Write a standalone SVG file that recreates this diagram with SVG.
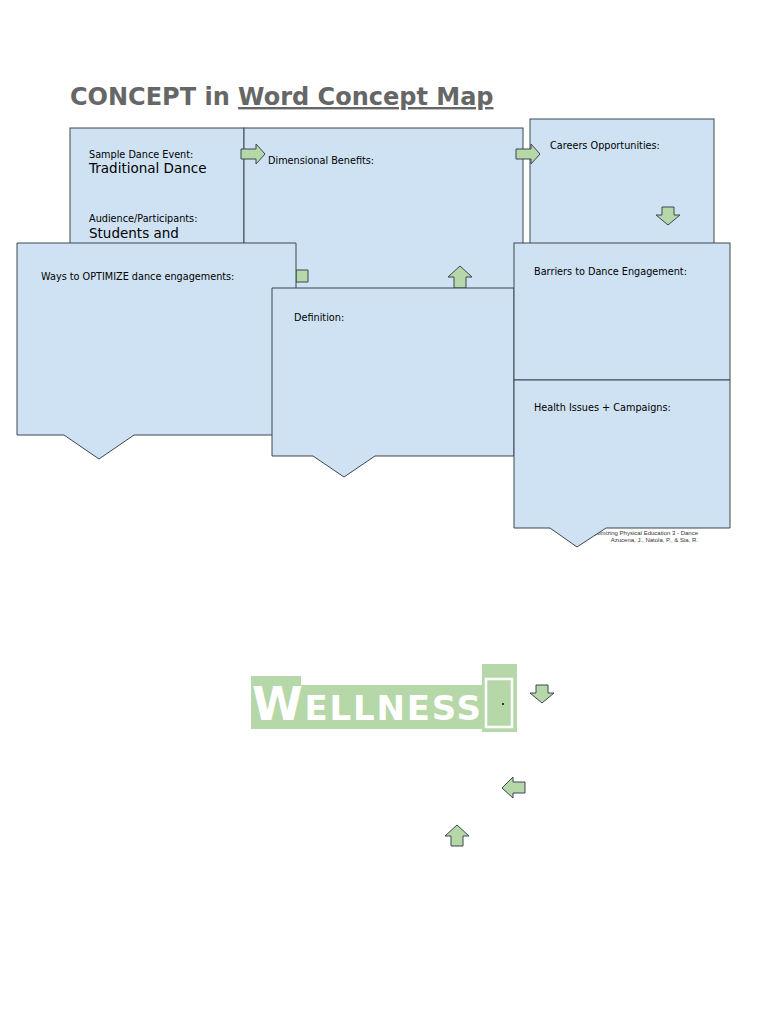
<svg xmlns="http://www.w3.org/2000/svg" width="768" height="1024" viewBox="0 0 768 1024">
<style>
.box{fill:#cfe2f3;stroke:#3c4650;stroke-width:1}
.arr{fill:#b6d7a8;stroke:#3c4650;stroke-width:1}
.t{font-family:"DejaVu Sans",sans-serif;font-size:9.7px;fill:#000}
.b{font-family:"DejaVu Sans",sans-serif;font-size:13.5px;fill:#000}
</style>
<rect width="768" height="1024" fill="#fff"/>
<text x="70" y="105" font-family="DejaVu Sans,sans-serif" font-size="24" font-weight="bold" fill="#666">CONCEPT in <tspan text-decoration="underline">Word Concept Map</tspan></text>
<g id="event"><rect class="box" x="70" y="128" width="174" height="160"/>
<text class="t" x="89" y="158">Sample Dance Event:</text><text class="b" x="89" y="173">Traditional Dance</text>
<text class="t" x="89" y="222">Audience/Participants:</text><text class="b" x="89" y="238">Students and</text></g>
<g id="benefits"><rect class="box" x="244" y="128" width="279" height="170"/><text class="t" x="268" y="164">Dimensional Benefits:</text></g>
<g id="careers"><rect class="box" x="530" y="119" width="184" height="134"/><text class="t" x="550" y="149">Careers Opportunities:</text></g>
<g id="connectors">
<path class="arr" d="M241,149 H256 V144 L265,154 L256,164 V159 H241 Z"/>
<path class="arr" d="M516,149 H531 V144 L540,154 L531,164 V159 H516 Z"/>
<path class="arr" d="M662,207 H674 V215 H680 L668,225 L656,215 H662 Z"/>
<path class="arr" d="M296,270 H308 V282 H296 Z"/>
<path class="arr" d="M454,288 V277 H448 L460,266 L472,277 H466 V288 Z"/>
<path class="arr" d="M536,685 H548 V693 H554 L542,703 L530,693 H536 Z"/>
<path class="arr" d="M525,782 H513 V777 L502,788 L513,798 V793 H525 Z"/>
<path class="arr" d="M451,846 V836 H445 L457,825 L469,836 H463 V846 Z"/>
</g>
<g id="ways"><path class="box" d="M17,243 H296 V435 H134 L99,459 L64,435 H17 Z"/><text class="t" x="41" y="280">Ways to OPTIMIZE dance engagements:</text></g>
<g id="definition"><path class="box" d="M272,288 H514 V456 H375 L344,477 L313,456 H272 Z"/><text class="t" x="294" y="321">Definition:</text></g>
<g id="barriers"><rect class="box" x="514" y="243" width="216" height="137"/><text class="t" x="534" y="275">Barriers to Dance Engagement:</text></g>
<text x="698" y="535" text-anchor="end" font-family="Liberation Sans,sans-serif" font-size="6" fill="#333">Optimizing Physical Education 3 - Dance</text>
<text x="698" y="542" text-anchor="end" font-family="Liberation Sans,sans-serif" font-size="6" fill="#333">Azucena, J., Natola, P., &amp; Sia, R.</text>
<g id="health"><path class="box" d="M514,380 H730 V528 H606 L577,547 L550,528 H514 Z"/><text class="t" x="534" y="411">Health Issues + Campaigns:</text></g>
<g id="wellness">
<rect x="251" y="676" width="50" height="53" fill="#b6d7a8"/>
<rect x="300" y="685" width="185" height="44" fill="#b6d7a8"/>
<rect x="482" y="664" width="35" height="68" fill="#b6d7a8"/>
<rect x="486" y="679" width="26" height="48" fill="none" stroke="#fff" stroke-width="2.5"/>
<circle cx="503" cy="704" r="1" fill="#000"/>
<text x="252" y="720" font-family="DejaVu Sans,sans-serif" font-weight="bold" fill="#fff" letter-spacing="1.8"><tspan font-size="46">W</tspan><tspan font-size="34">ELLNESS</tspan></text>
</g>
</svg>
